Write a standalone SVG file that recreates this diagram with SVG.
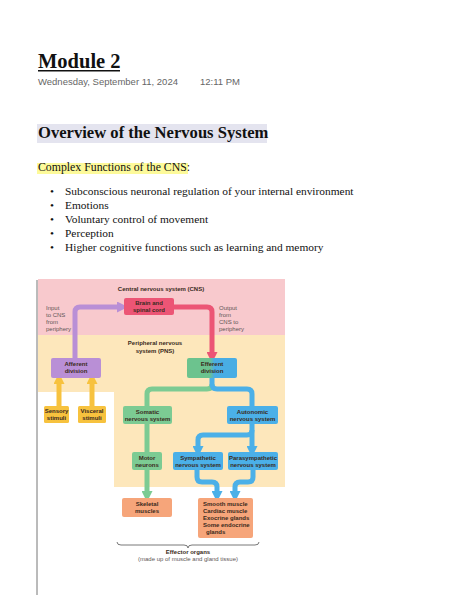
<svg xmlns="http://www.w3.org/2000/svg" width="474" height="613" viewBox="0 0 474 613">
<style>
.serif{font-family:"Liberation Serif","Times New Roman",serif;fill:#111}
.cal{font-family:"Liberation Sans",Arial,sans-serif;fill:#666}
.bx{font-family:"Liberation Sans",Arial,sans-serif;font-weight:bold;font-size:6px;fill:#3a2a20;text-anchor:middle}
.lb{font-family:"Liberation Sans",Arial,sans-serif;font-size:6px;fill:#5e5656}
.conn path{fill:none;stroke-width:5;stroke-linejoin:round}
</style>
<defs>
<linearGradient id="eff" x1="0" x2="1" y1="0" y2="0">
<stop offset="0.45" stop-color="#6cc38e"/><stop offset="0.55" stop-color="#49ade4"/>
</linearGradient>
<marker id="mPur" viewBox="0 0 10 10" refX="0" refY="5" markerWidth="2.2" markerHeight="2.2" orient="auto" markerUnits="strokeWidth"><path d="M0,0L10,5L0,10z" fill="#b98fd6"/></marker>
<marker id="mRed" viewBox="0 0 10 10" refX="0" refY="5" markerWidth="2.2" markerHeight="2.2" orient="auto" markerUnits="strokeWidth"><path d="M0,0L10,5L0,10z" fill="#ec5575"/></marker>
<marker id="mYel" viewBox="0 0 10 10" refX="0" refY="5" markerWidth="2.2" markerHeight="2.2" orient="auto" markerUnits="strokeWidth"><path d="M0,0L10,5L0,10z" fill="#f7c23e"/></marker>
<marker id="mGrn" viewBox="0 0 10 10" refX="0" refY="5" markerWidth="2.2" markerHeight="2.2" orient="auto" markerUnits="strokeWidth"><path d="M0,0L10,5L0,10z" fill="#7ccb93"/></marker>
<marker id="mBlu" viewBox="0 0 10 10" refX="0" refY="5" markerWidth="2.2" markerHeight="2.2" orient="auto" markerUnits="strokeWidth"><path d="M0,0L10,5L0,10z" fill="#4bb0e8"/></marker>
</defs>
<rect width="474" height="613" fill="#fff"/>

<!-- Page header -->
<text x="38" y="68" class="serif" font-size="20.5" font-weight="bold">Module 2</text>
<rect x="38" y="70" width="82" height="1.5" fill="#111"/>
<text x="38" y="85" class="cal" font-size="9.5">Wednesday, September 11, 2024</text>
<text x="200" y="85" class="cal" font-size="9.5">12:11 PM</text>

<rect x="37" y="124" width="230" height="19" fill="#e4e4ef"/>
<text x="38" y="138" class="serif" font-size="16.6" font-weight="bold">Overview of the Nervous System</text>

<rect x="37" y="163" width="151" height="11" fill="#fdfa9a"/>
<text x="38" y="171" class="serif" font-size="11.8">Complex Functions of the CNS:</text>

<g class="serif" font-size="11.4">
<text x="50" y="195">•</text><text x="65" y="195">Subconscious neuronal regulation of your internal environment</text>
<text x="50" y="209">•</text><text x="65" y="209">Emotions</text>
<text x="50" y="223">•</text><text x="65" y="223">Voluntary control of movement</text>
<text x="50" y="237">•</text><text x="65" y="237">Perception</text>
<text x="50" y="251">•</text><text x="65" y="251">Higher cognitive functions such as learning and memory</text>
</g>

<!-- Diagram background -->
<rect x="38" y="279" width="247" height="56" fill="#f8c9cd"/>
<rect x="38" y="335" width="247" height="57" fill="#fde7bb"/>
<rect x="114" y="392" width="171" height="95" fill="#fde7bb"/>
<line x1="37" y1="280" x2="37" y2="595" stroke="#777" stroke-width="1"/>

<text x="161" y="291" class="bx" font-size="6.2">Central nervous system (CNS)</text>
<g class="lb">
<text x="46" y="310">Input</text><text x="46" y="317">to CNS</text><text x="46" y="324">from</text><text x="46" y="331">periphery</text>
<text x="219" y="310">Output</text><text x="219" y="317">from</text><text x="219" y="324">CNS to</text><text x="219" y="331">periphery</text>
</g>
<text x="155" y="345" class="bx" font-size="6.2">Peripheral nervous</text>
<text x="155" y="353" class="bx" font-size="6.2">system (PNS)</text>

<!-- Connectors -->
<g id="connectors" class="conn">
<path d="M75,358 V312 Q75,307 80,307 H117" stroke="#b98fd6" marker-end="url(#mPur)"/>
<path d="M174,307 H207 Q212,307 212,312 V352" stroke="#ec5575" marker-end="url(#mRed)"/>
<path d="M59,406 V384" stroke="#f7c23e" marker-end="url(#mYel)"/>
<path d="M92,406 V384" stroke="#f7c23e" marker-end="url(#mYel)"/>
<path d="M212,384 Q212,389 207,389 H152 Q147,389 147,394 V406" stroke="#7ccb93"/>
<path d="M212,378 V384 Q212,389 217,389 H247 Q252,389 252,394 V406" stroke="#4bb0e8"/>
<path d="M147,424 V452" stroke="#7ccb93"/>
<path d="M147,470 V491" stroke="#7ccb93" marker-end="url(#mGrn)"/>
<path d="M252,424 V430 Q252,435 247,435 H203 Q198,435 198,440 V446" stroke="#4bb0e8" marker-end="url(#mBlu)"/>
<path d="M252,430 V446" stroke="#4bb0e8" marker-end="url(#mBlu)"/>
<path d="M197,470 V477 Q197,482 202,482 H212 Q217,482 217,487 V491" stroke="#4bb0e8" marker-end="url(#mBlu)"/>
<path d="M253,470 V477 Q253,482 248,482 H240 Q235,482 235,487 V491" stroke="#4bb0e8" marker-end="url(#mBlu)"/>
</g>

<!-- Nodes -->
<g id="brain"><rect x="124" y="298" width="50" height="17" rx="2" fill="#ec5575"/>
<text x="149" y="305" class="bx">Brain and</text><text x="149" y="312" class="bx">spinal cord</text></g>
<g id="afferent"><rect x="51" y="358" width="50" height="20" rx="2" fill="#b98fd6"/>
<text x="76" y="366" class="bx">Afferent</text><text x="76" y="373" class="bx">division</text></g>
<g id="efferent"><rect x="187" y="358" width="50" height="20" rx="2" fill="url(#eff)"/>
<text x="212" y="366" class="bx">Efferent</text><text x="212" y="373" class="bx">division</text></g>
<g id="sensory"><rect x="44" y="406" width="25" height="17" rx="1.5" fill="#f7c23e"/>
<text x="56.5" y="413" class="bx">Sensory</text><text x="56.5" y="420" class="bx">stimuli</text></g>
<g id="visceral"><rect x="78" y="406" width="28" height="17" rx="1.5" fill="#f7c23e"/>
<text x="92" y="413" class="bx">Visceral</text><text x="92" y="420" class="bx">stimuli</text></g>
<g id="somatic"><rect x="123" y="406" width="49" height="18" rx="2" fill="#7ccb93"/>
<text x="147.5" y="413.5" class="bx">Somatic</text><text x="147.5" y="420.5" class="bx">nervous system</text></g>
<g id="autonomic"><rect x="227" y="406" width="51" height="18" rx="2" fill="#4bb0e8"/>
<text x="252.5" y="413.5" class="bx">Autonomic</text><text x="252.5" y="420.5" class="bx">nervous system</text></g>
<g id="motor"><rect x="132" y="452" width="30" height="18" rx="2" fill="#7ccb93"/>
<text x="147" y="459.5" class="bx">Motor</text><text x="147" y="466.5" class="bx">neurons</text></g>
<g id="sympathetic"><rect x="173" y="452" width="50" height="18" rx="2" fill="#4bb0e8"/>
<text x="198" y="459.5" class="bx">Sympathetic</text><text x="198" y="466.5" class="bx">nervous system</text></g>
<g id="parasympathetic"><rect x="228" y="452" width="50" height="18" rx="2" fill="#4bb0e8"/>
<text x="253" y="459.5" class="bx">Parasympathetic</text><text x="253" y="466.5" class="bx">nervous system</text></g>
<g id="skeletal"><rect x="122" y="498" width="50" height="19" rx="2" fill="#f6a57a"/>
<text x="147" y="506" class="bx">Skeletal</text><text x="147" y="513" class="bx">muscles</text></g>
<g id="smooth"><rect x="198" y="498" width="55" height="40" rx="2" fill="#f6a57a"/>
<g class="bx" style="text-anchor:start">
<text x="203" y="506">Smooth muscle</text><text x="203" y="513">Cardiac muscle</text><text x="203" y="520">Exocrine glands</text><text x="203" y="527">Some endocrine</text><text x="206" y="534">glands</text></g></g>

<g id="effector">
<path d="M117,542 Q117,545 121,545 H184 Q188,545 188,548 Q188,545 192,545 H255 Q259,545 259,542" fill="none" stroke="#555" stroke-width="0.8"/>
<text x="188" y="554" class="bx" font-size="6.2">Effector organs</text>
<text x="188" y="561" class="lb" text-anchor="middle">(made up of muscle and gland tissue)</text>
</g>
</svg>
